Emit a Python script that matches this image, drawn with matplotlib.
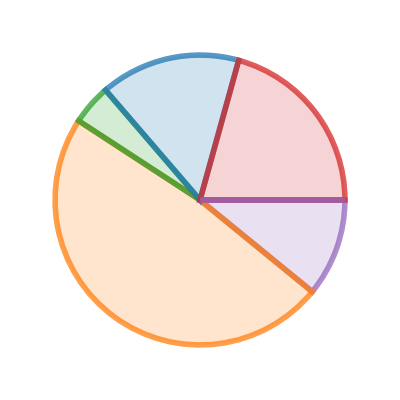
import matplotlib
matplotlib.use("Agg")
import matplotlib.pyplot as plt
from matplotlib.colors import to_rgba

labels = ["A", "B", "C", "D", "E"]
values = [20.7, 15.6, 4.5, 48.3, 10.9]
colors = ["tab:red", "tab:blue", "tab:green", "tab:orange", "tab:purple"]

fig = plt.figure(figsize=(4, 4), dpi=100)
ax = fig.add_axes([0, 0, 1, 1])
wedges, _ = ax.pie(values, startangle=0, counterclock=True)
n = len(wedges)
for i, (w, c) in enumerate(zip(wedges, colors)):
    w.set_facecolor(to_rgba(c, 0.2))
    w.set_edgecolor(to_rgba(c, 0.75))
    w.set_linewidth(4)
    w.set_zorder(n - i)
# last wedge's radial edge at the start angle sits on top
ax.plot([0, 1], [0, 0], color=to_rgba(colors[-1], 0.75), lw=4, zorder=n + 1,
        solid_capstyle="butt")
ax.set_xlim(-1.38, 1.38)
ax.set_ylim(-1.38, 1.38)
ax.set_aspect("equal")
ax.axis("off")
fig.savefig("out.png", facecolor="white")
